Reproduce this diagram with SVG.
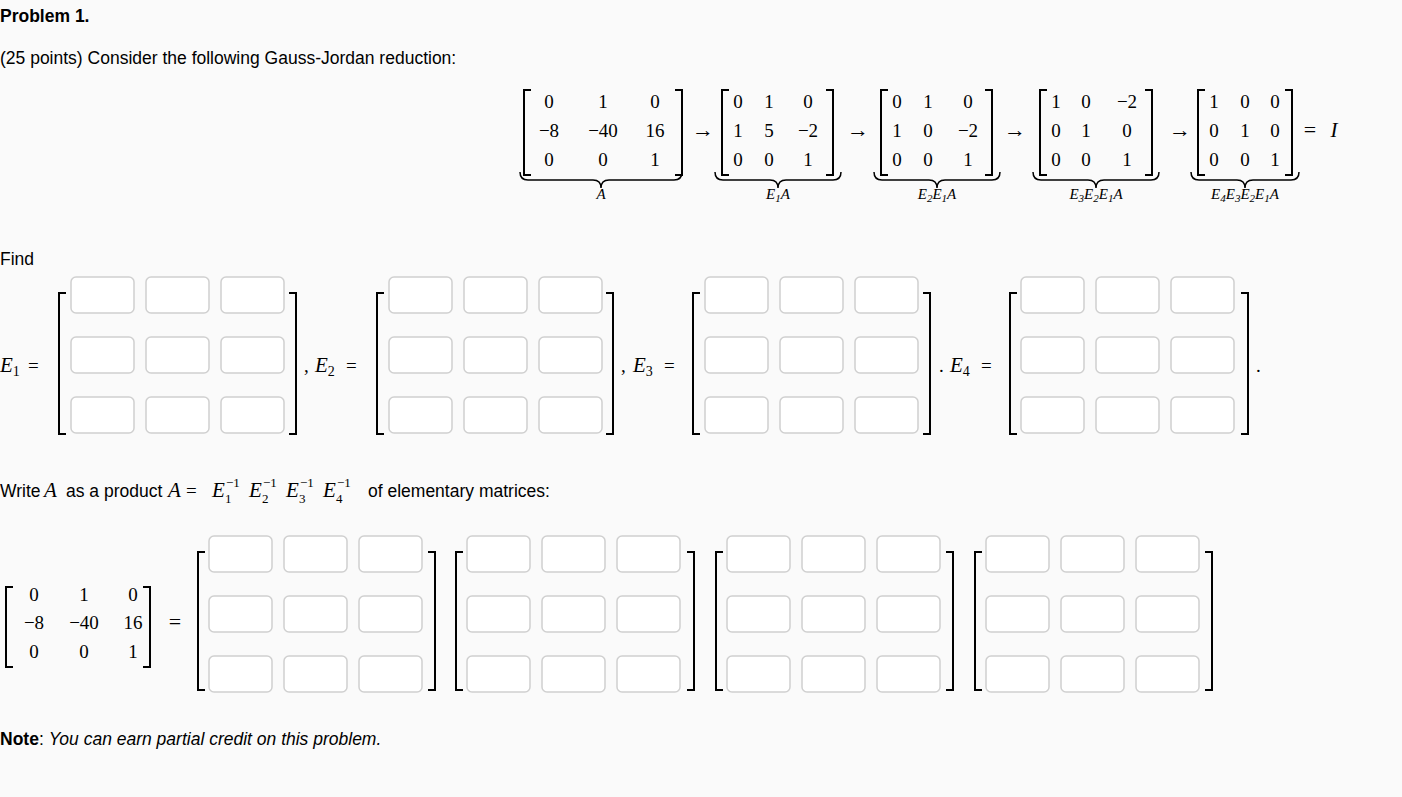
<svg xmlns="http://www.w3.org/2000/svg" width="1402" height="797" viewBox="0 0 1402 797">
<style>
.s{font-family:"Liberation Sans",Arial,sans-serif;font-size:17.5px;fill:#000}
.m{font-family:"Liberation Serif","Times New Roman",serif;font-size:19px;fill:#000}
.mi{font-family:"Liberation Serif","Times New Roman",serif;font-size:21px;font-style:italic;fill:#000}
.sub{font-family:"Liberation Serif",serif;font-size:14px;fill:#000}
.br{fill:none;stroke:#000;stroke-width:2}
.bx{fill:#fff;stroke:#d0d0d0;stroke-width:1.5}
.bc{fill:none;stroke:#000;stroke-width:1.5}
</style>
<defs>
<rect id="b" class="bx" width="63" height="36" rx="5"/>
<g id="g3">
<use href="#b" x="0" y="0"/><use href="#b" x="75" y="0"/><use href="#b" x="150" y="0"/>
<use href="#b" x="0" y="60"/><use href="#b" x="75" y="60"/><use href="#b" x="150" y="60"/>
<use href="#b" x="0" y="120"/><use href="#b" x="75" y="120"/><use href="#b" x="150" y="120"/>
</g>
</defs>
<rect width="1402" height="797" fill="#fafafa"/>
<text x="0" y="22" class="s" font-weight="bold" font-size="19">Problem 1.</text>
<text x="0" y="64" class="s">(25 points) Consider the following Gauss-Jordan reduction:</text>

<g id="top" class="m" text-anchor="middle">
<path class="br" d="M531,90h-7v85h7M675,90h7v85h-7"/>
<text x="549" y="108">0</text><text x="603" y="108">1</text><text x="655" y="108">0</text>
<text x="549" y="137">−8</text><text x="603" y="137">−40</text><text x="655" y="137">16</text>
<text x="549" y="166">0</text><text x="603" y="166">0</text><text x="655" y="166">1</text>
<path class="bc" d="M520,172q0,8 8,8h65q8,0 8,8q0,-8 8,-8h65q8,0 8,-8"/>
<text x="601" y="199" font-style="italic" font-size="15">A</text>
<text x="703" y="137" font-size="22">→</text>
<path class="br" d="M729,90h-7v85h7M826,90h7v85h-7"/>
<text x="738" y="108">0</text><text x="769" y="108">1</text><text x="808" y="108">0</text>
<text x="738" y="137">1</text><text x="769" y="137">5</text><text x="808" y="137">−2</text>
<text x="738" y="166">0</text><text x="769" y="166">0</text><text x="808" y="166">1</text>
<path class="bc" d="M715,172q0,8 8,8h47q8,0 8,8q0,-8 8,-8h47q8,0 8,-8"/>
<text x="778" y="199" font-style="italic" font-size="15">E<tspan font-size="11" dy="3">1</tspan><tspan dy="-3">A</tspan></text>
<text x="858" y="137" font-size="22">→</text>
<path class="br" d="M888,90h-7v85h7M985,90h7v85h-7"/>
<text x="897" y="108">0</text><text x="928" y="108">1</text><text x="968" y="108">0</text>
<text x="897" y="137">1</text><text x="928" y="137">0</text><text x="968" y="137">−2</text>
<text x="897" y="166">0</text><text x="928" y="166">0</text><text x="968" y="166">1</text>
<path class="bc" d="M874,172q0,8 8,8h47q8,0 8,8q0,-8 8,-8h47q8,0 8,-8"/>
<text x="937" y="199" font-style="italic" font-size="15">E<tspan font-size="11" dy="3">2</tspan><tspan dy="-3">E</tspan><tspan font-size="11" dy="3">1</tspan><tspan dy="-3">A</tspan></text>
<text x="1015" y="137" font-size="22">→</text>
<path class="br" d="M1047,90h-7v85h7M1145,90h7v85h-7"/>
<text x="1056" y="108">1</text><text x="1086" y="108">0</text><text x="1127" y="108">−2</text>
<text x="1056" y="137">0</text><text x="1086" y="137">1</text><text x="1127" y="137">0</text>
<text x="1056" y="166">0</text><text x="1086" y="166">0</text><text x="1127" y="166">1</text>
<path class="bc" d="M1033,172q0,8 8,8h47q8,0 8,8q0,-8 8,-8h47q8,0 8,-8"/>
<text x="1096" y="199" font-style="italic" font-size="15">E<tspan font-size="11" dy="3">3</tspan><tspan dy="-3">E</tspan><tspan font-size="11" dy="3">2</tspan><tspan dy="-3">E</tspan><tspan font-size="11" dy="3">1</tspan><tspan dy="-3">A</tspan></text>
<text x="1180" y="137" font-size="22">→</text>
<path class="br" d="M1205,90h-7v85h7M1285,90h7v85h-7"/>
<text x="1214" y="108">1</text><text x="1245" y="108">0</text><text x="1275" y="108">0</text>
<text x="1214" y="137">0</text><text x="1245" y="137">1</text><text x="1275" y="137">0</text>
<text x="1214" y="166">0</text><text x="1245" y="166">0</text><text x="1275" y="166">1</text>
<path class="bc" d="M1191,172q0,8 8,8h38q8,0 8,8q0,-8 8,-8h38q8,0 8,-8"/>
<text x="1245" y="199" font-style="italic" font-size="15">E<tspan font-size="11" dy="3">4</tspan><tspan dy="-3">E</tspan><tspan font-size="11" dy="3">3</tspan><tspan dy="-3">E</tspan><tspan font-size="11" dy="3">2</tspan><tspan dy="-3">E</tspan><tspan font-size="11" dy="3">1</tspan><tspan dy="-3">A</tspan></text>
<text x="1310" y="137" font-size="22">=</text><text x="1334" y="137" font-style="italic" font-size="21">I</text>
</g>

<text x="0" y="265" class="s">Find</text>

<g id="find">
<text x="0" y="372" class="mi">E<tspan class="sub" font-style="normal" dy="4">1</tspan></text><text x="28" y="372" class="m" font-size="22">=</text>
<path class="br" d="M66,293h-7v141h7M289,293h7v141h-7"/>
<use href="#g3" x="71" y="277"/>
<text x="304" y="372" class="m">,</text>
<text x="315" y="372" class="mi">E<tspan class="sub" font-style="normal" dy="4">2</tspan></text><text x="346" y="372" class="m" font-size="22">=</text>
<path class="br" d="M384,293h-7v141h7M606,293h7v141h-7"/>
<use href="#g3" x="389" y="277"/>
<text x="621" y="372" class="m">,</text>
<text x="633" y="372" class="mi">E<tspan class="sub" font-style="normal" dy="4">3</tspan></text><text x="664" y="372" class="m" font-size="22">=</text>
<path class="br" d="M700,293h-7v141h7M923,293h7v141h-7"/>
<use href="#g3" x="705" y="277"/>
<text x="939" y="372" class="m">.</text>
<text x="950" y="372" class="mi">E<tspan class="sub" font-style="normal" dy="4">4</tspan></text><text x="981" y="372" class="m" font-size="22">=</text>
<path class="br" d="M1017,293h-7v141h7M1241,293h7v141h-7"/>
<use href="#g3" x="1021" y="277"/>
<text x="1256" y="372" class="m">.</text>
</g>

<g id="formula">
<text x="0" y="497" class="s">Write</text>
<text x="44" y="497" class="mi">A</text>
<text x="66" y="497" class="s">as a product</text>
<text x="168" y="497" class="mi">A</text>
<text x="186" y="497" class="m" font-size="22">=</text>
<g font-family="Liberation Serif, serif" font-size="13">
<text x="212" y="497" class="mi">E</text><text x="226" y="487">−1</text><text x="225" y="503">1</text>
<text x="249" y="497" class="mi">E</text><text x="263" y="487">−1</text><text x="262" y="503">2</text>
<text x="286" y="497" class="mi">E</text><text x="300" y="487">−1</text><text x="299" y="503">3</text>
<text x="323" y="497" class="mi">E</text><text x="337" y="487">−1</text><text x="336" y="503">4</text>
</g>
<text x="368" y="497" class="s">of elementary matrices:</text>
</g>

<g id="prod">
<g class="m" text-anchor="middle">
<path class="br" d="M13,587h-7v80h7M143,587h7v80h-7"/>
<text x="34" y="601">0</text><text x="84" y="601">1</text><text x="133" y="601">0</text>
<text x="34" y="629">−8</text><text x="84" y="629">−40</text><text x="133" y="629">16</text>
<text x="34" y="658">0</text><text x="84" y="658">0</text><text x="133" y="658">1</text>
<text x="175" y="629" font-size="22">=</text>
</g>
<path class="br" d="M205,552h-7v138h7M428,552h7v138h-7"/>
<use href="#g3" x="209" y="536"/>
<path class="br" d="M463,552h-7v138h7M687,552h7v138h-7"/>
<use href="#g3" x="467" y="536"/>
<path class="br" d="M723,552h-7v138h7M946,552h7v138h-7"/>
<use href="#g3" x="727" y="536"/>
<path class="br" d="M982,552h-7v138h7M1205,552h7v138h-7"/>
<use href="#g3" x="986" y="536"/>
</g>

<text x="0" y="745" class="s"><tspan font-weight="bold">Note</tspan>: <tspan font-style="italic">You can earn partial credit on this problem.</tspan></text>
</svg>
